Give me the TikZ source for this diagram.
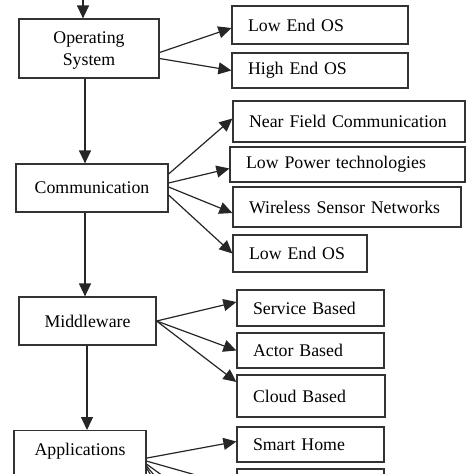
\documentclass[tikz,border=0pt]{standalone}
\usepackage{fontspec}
\setmainfont{Liberation Serif}
\usetikzlibrary{calc,positioning,arrows.meta}

\tikzset{
  stage/.style={draw=black!80, line width=1.2pt, align=center, inner sep=0pt, font=\fontsize{17.8}{22}\selectfont},
  leaf/.style={draw=black!80, line width=1.2pt, inner xsep=16pt, inner ysep=0pt, align=left, font=\fontsize{17.8}{21}\selectfont},
  arr/.style={line width=1.2pt, draw=black!85, -{Triangle[length=13pt,width=12pt]}}
}

\begin{document}
\begin{tikzpicture}[x=1pt,y=-1pt]
\useasboundingbox (0,0) rectangle (474,474);
\clip (0,0) rectangle (474,474);

% main stages
\node[stage, minimum width=140, minimum height=59, text depth=0pt] (os) at (89,48.5) {Operating\\System};
\node[stage, minimum width=152, minimum height=48] (comm) at (92,188) {Communication};
\node[stage, minimum width=137, minimum height=48] (mid) at (87.5,321) {Middleware};
\node[stage, minimum width=132, text height=25pt, text depth=40pt, anchor=north] (app) at (80,430) {Applications};

% leaves
\foreach \nm/\cx/\cy/\w/\h/\txt in {
  lowos/320/25/176/38/Low End OS,
  highos/320/70.5/176/35/High End OS,
  nfc/349/121.5/232/41/Near Field Communication,
  lowpow/347.5/164.5/235/35/Low Power technologies,
  wsn/347/207/228/40/Wireless Sensor Networks,
  lowostwo/300/253.5/134/37/Low End OS,
  serv/310.5/308/147/36/Service Based,
  actor/310.5/350.5/147/35/Actor Based,
  cloud/311/396/148/42/Cloud Based,
  smart/310.5/444.5/147/35/Smart Home,
  more/310.5/486.5/147/35/}
{
\pgfmathsetmacro\tw{\w-32}
\node[leaf, minimum height=\h, text width=\tw pt] (\nm) at (\cx,\cy) {\txt};
}

% spine
\coordinate (top) at (83,-10);
\coordinate (spine) at (85,0);
\draw[arr] (top) -- (top |- os.north);
\draw[arr] (spine |- os.south) -- (spine |- comm.north);
\draw[arr] (spine |- comm.south) -- (spine |- mid.north);
\draw[arr] ([xshift=2pt]spine |- mid.south) -- ([xshift=2pt]spine |- app.north);

% branches
\draw[arr] ([yshift=-4pt]os.east) -- ([yshift=-3pt]lowos.west);
\draw[arr] ([yshift=-10pt]os.east) -- (highos.west);

\draw[arr] ([yshift=14pt]comm.east) -- ([yshift=3pt]nfc.west);
\draw[arr] ([yshift=5pt]comm.east) -- ([yshift=-4pt]lowpow.west);
\draw[arr] ([yshift=1pt]comm.east) -- ([yshift=-6pt]wsn.west);
\draw[arr] ([yshift=-7pt]comm.east) -- (lowostwo.west);

\draw[arr] (mid.east) -- ([yshift=6pt]serv.west);
\draw[arr] (mid.east) -- (actor.west);
\draw[arr] (mid.east) -- ([yshift=14pt]cloud.west);

\coordinate (offa) at (237,530);
\coordinate (offb) at (237,575);
\coordinate (offc) at (237,620);
\draw[arr] ([yshift=5pt]app.east) -- ([yshift=3pt]smart.west);
\draw[arr] ([yshift=2pt]app.east) -- (more.west);
\draw[arr] ([yshift=-1pt]app.east) -- (offa);
\draw[arr] ([yshift=-3pt]app.east) -- (offb);
\draw[arr] ([yshift=-5pt]app.east) -- (offc);

\end{tikzpicture}
\end{document}
